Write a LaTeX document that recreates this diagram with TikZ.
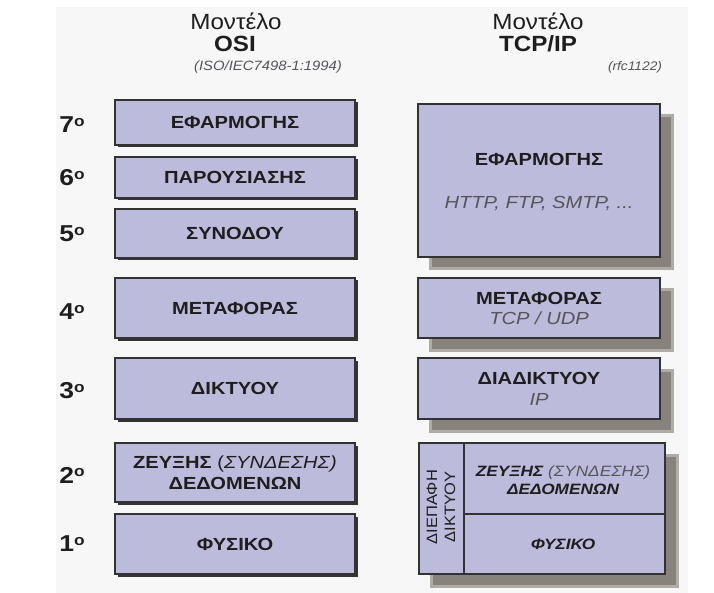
\documentclass[tikz,border=0pt]{standalone}
\usepackage{fontspec}
\setmainfont{Liberation Sans}[FakeStretch=1.1]
\newfontfamily\boxfont{Liberation Sans}[FakeStretch=1.15]
\usetikzlibrary{shadows}
\definecolor{panel}{RGB}{247,247,247}
\definecolor{boxfill}{RGB}{189,187,219}
\definecolor{boxline}{RGB}{50,50,50}
\definecolor{txtdark}{RGB}{30,30,30}
\definecolor{txtgrey}{RGB}{85,85,90}
\definecolor{shadowc}{RGB}{135,131,124}
\definecolor{shadowl}{RGB}{175,172,167}
\tikzset{
  osibox/.style={draw=boxline, line width=1.1pt, fill=boxfill, minimum width=240pt, inner sep=0pt,
    align=center, text=txtdark, font=\boxfont\fontsize{17.5}{21}\selectfont\bfseries,
    drop shadow={shadow xshift=2.5pt, shadow yshift=-2.5pt, fill=black!80, opacity=1}},
  tcpbox/.style={draw=boxline, line width=1.1pt, fill=boxfill, minimum width=242pt, inner sep=0pt,
    drop shadow={shadow xshift=12pt, shadow yshift=-12pt, fill=shadowc, draw=shadowl, line width=3pt, opacity=1}},
  numtxt/.style={font=\boxfont\fontsize{23}{23}\selectfont\bfseries, text=txtdark},
  boldtxt/.style={font=\boxfont\fontsize{17.5}{20}\selectfont\bfseries, text=txtdark, inner sep=0pt},
  itxt/.style={font=\boxfont\fontsize{17.5}{20}\selectfont\itshape, text=txtgrey, inner sep=0pt},
  bitxt/.style={font=\boxfont\fontsize{15}{18}\selectfont\bfseries\itshape, text=txtdark, inner sep=0pt, align=center},
  divline/.style={draw=boxline, line width=1.1pt},
  title/.style={font=\fontsize{22}{24}\selectfont, text=txtdark, inner sep=0pt},
  titleb/.style={font=\fontsize{22}{24}\selectfont\bfseries, text=txtdark, inner sep=0pt},
  ref/.style={font=\fontsize{13.5}{14}\selectfont\itshape, text=txtgrey, inner sep=0pt},
  refs/.style={font=\fontsize{12.5}{13}\selectfont\itshape, text=txtgrey, inner sep=0pt},
}
\newcommand{\ord}[1]{#1{\fontsize{15}{15}\selectfont\raisebox{0.45em}{o}}}
\begin{document}
\begin{tikzpicture}[x=1pt,y=-1pt]
\useasboundingbox (0,0) rectangle (714,593);
\fill[white] (0,0) rectangle (714,593);
\fill[panel] (56,7) rectangle (688,593);
% titles
\node[title] (t1) at (236,21) {Μοντέλο};
\node[titleb] (t2) at (235,44) {OSI};
\node[ref] (t3) at (268,67) {(ISO/IEC7498-1:1994)};
\node[title] (u1) at (538,21) {Μοντέλο};
\node[titleb] (u2) at (538,44) {TCP/IP};
\node[refs] (u3) at (635,67) {(rfc1122)};
% OSI boxes
\node[osibox, minimum height=45pt] (o7) at (235,122.5) {ΕΦΑΡΜΟΓΗΣ};
\node[osibox, minimum height=41pt] (o6) at (235,177.5) {ΠΑΡΟΥΣΙΑΣΗΣ};
\node[osibox, minimum height=49pt] (o5) at (235,233.5) {ΣΥΝΟΔΟΥ};
\node[osibox, minimum height=60pt] (o4) at (235,308) {ΜΕΤΑΦΟΡΑΣ};
\node[osibox, minimum height=61pt] (o3) at (235,388.5) {ΔΙΚΤΥΟΥ};
\node[osibox, minimum height=59pt] (o2) at (235,472.5) {ΖΕΥΞΗΣ {\mdseries(\itshape ΣΥΝΔΕΣΗΣ\/)}\\ΔΕΔΟΜΕΝΩΝ};
\node[osibox, minimum height=60pt] (o1) at (235,544) {ΦΥΣΙΚΟ};
% numbers
\node[numtxt] (n7) at (72,125) {\ord{7}};
\node[numtxt] (n6) at (72,178) {\ord{6}};
\node[numtxt] (n5) at (72,234) {\ord{5}};
\node[numtxt] (n4) at (72,312) {\ord{4}};
\node[numtxt] (n3) at (72,391) {\ord{3}};
\node[numtxt] (n2) at (72,475) {\ord{2}};
\node[numtxt] (n1) at (72,544) {\ord{1}};
% TCP/IP boxes
\node[tcpbox, minimum height=153pt] (app) at (539,180.5) {};
\node[boldtxt] (appT) at (539,159) {ΕΦΑΡΜΟΓΗΣ};
\node[itxt] (appP) at (539,204) {HTTP, FTP, SMTP, ...};
\node[tcpbox, minimum height=60pt] (tr) at (539,308) {};
\node[boldtxt] (trT) at (539,298) {ΜΕΤΑΦΟΡΑΣ};
\node[itxt] (trP) at (539,318) {TCP / UDP};
\node[tcpbox, minimum height=61pt] (in) at (539,388.5) {};
\node[boldtxt] (inT) at (539,378) {ΔΙΑΔΙΚΤΥΟΥ};
\node[itxt] (inP) at (539,399) {IP};
\node[tcpbox, minimum width=246pt, minimum height=131pt] (ni) at (542,508.5) {};
\coordinate (dvt) at (464,443);
\coordinate (hdl) at (464,514);
\draw[divline] (dvt |- ni.north) -- (dvt |- ni.south);
\draw[divline] (hdl) -- (hdl -| ni.east);
\node[rotate=90, align=center, font=\fontsize{15}{18}\selectfont, text=txtdark, inner sep=0pt] (nil) at (441,507) {ΔΙΕΠΑΦΗ\\ΔΙΚΤΥΟΥ};
\node[bitxt] (dl) at (563,480) {ΖΕΥΞΗΣ {\mdseries\color{txtgrey}(ΣΥΝΔΕΣΗΣ)}\\ΔΕΔΟΜΕΝΩΝ};
\node[bitxt] (ph) at (563,544) {ΦΥΣΙΚΟ};
\end{tikzpicture}
\end{document}
